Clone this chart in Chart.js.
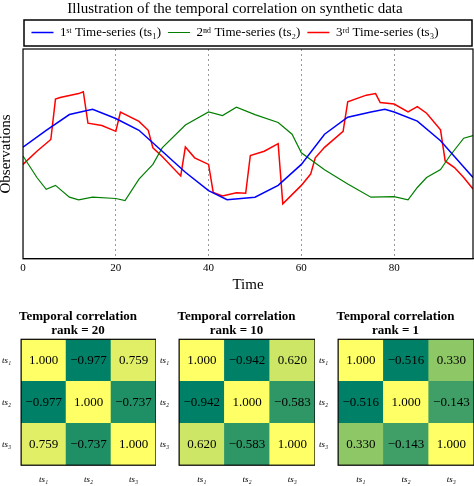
<!DOCTYPE html>
<html>
<head>
<meta charset="utf-8">
<script src="https://cdn.jsdelivr.net/npm/chart.js@4/dist/chart.umd.min.js"></script>
<style>
  body { margin: 0; background: #fff; width: 474px; height: 486px; position: relative; overflow: hidden; }
  .box { position: absolute; }
</style>
</head>
<body>
<div class="box" style="left:0;top:0;width:474px;height:294px"><canvas id="lineChart"></canvas></div>
<div class="box" style="left:0;top:310px;width:156px;height:176px"><canvas id="hm1"></canvas></div>
<div class="box" style="left:158px;top:310px;width:157px;height:176px"><canvas id="hm2"></canvas></div>
<div class="box" style="left:317px;top:310px;width:157px;height:176px"><canvas id="hm3"></canvas></div>
<script>
const ts1X = [0, 5, 10, 15, 20, 25, 30, 35, 40, 44, 50, 55, 60, 65, 70, 75, 78, 80, 85, 90, 95, 97];
const ts1Y = [0.26, 0.9, 1.5, 1.7, 1.35, 0.9, 0.1, -0.7, -1.4, -1.75, -1.65, -1.2, -0.4, 0.75, 1.4, 1.6, 1.7, 1.6, 1.25, 0.5, -0.5, -0.9];
const ts2X = [0, 3, 5, 7, 10, 12, 15, 20, 22, 25, 28, 30, 35, 40, 43, 46, 50, 55, 58, 60, 65, 70, 75, 80, 83, 85, 87, 90, 92, 95, 97];
const ts2Y = [-0.08, -0.9, -1.35, -1.2, -1.65, -1.75, -1.65, -1.7, -1.78, -0.96, -0.4, 0.23, 1.1, 1.6, 1.46, 1.78, 1.5, 1.2, 0.75, 0.04, -0.6, -1.15, -1.65, -1.63, -1.75, -1.28, -0.9, -0.6, -0.08, 0.6, 0.7];
const ts3X = [0, 3, 6, 7, 8, 12, 13, 14, 17, 20, 21, 25, 27, 28, 30, 34, 35, 37, 40, 41, 43, 46, 48, 49, 52, 55, 56, 60, 62, 63, 65, 69, 70, 74, 76, 77, 80, 83, 85, 87, 90, 91, 93, 95, 97];
const ts3Y = [-0.4, 0.1, 0.55, 2.09, 2.15, 2.3, 2.37, 1.17, 1.08, 0.86, 1.59, 1.24, 0.9, 0.23, -0.1, -0.84, 0.26, -0.15, -0.4, -1.47, -1.6, -1.48, -1.5, -0.06, 0.1, 0.39, -1.9, -1.2, -0.77, -0.15, 0.25, 0.86, 1.99, 2.24, 2.3, 1.96, 1.9, 1.6, 1.8, 1.55, 0.92, -0.27, -0.52, -0.9, -1.34];
const seriesLabels = ['1ˢᵗ Time-series (ts₁)', '2ⁿᵈ Time-series (ts₂)', '3ʳᵈ Time-series (ts₃)'];

// --- correlation matrices (row ts1..ts3)
const tsNames = ['ts₁', 'ts₂', 'ts₃'];
const ranks = [20, 10, 1];
const corr20 = [[1.000, -0.977, 0.759], [-0.977, 1.000, -0.737], [0.759, -0.737, 1.000]];
const corr10 = [[1.000, -0.942, 0.620], [-0.942, 1.000, -0.583], [0.620, -0.583, 1.000]];
const corr1 = [[1.000, -0.516, 0.330], [-0.516, 1.000, -0.143], [0.330, -0.143, 1.000]];

const serif = 'Liberation Serif';

function pts(xs, ys) { return xs.map((x, i) => ({ x: x, y: ys[i] })); }

const frame = {
    id: 'frame',
    afterDraw(chart) {
        const a = chart.chartArea, c = chart.ctx;
        c.save(); c.strokeStyle = '#000'; c.lineWidth = 1.2;
        c.strokeRect(a.left, a.top, a.right - a.left, a.bottom - a.top);
        if (chart.legend && chart.legend.options.display) {
            const l = chart.legend;
            c.lineWidth = 1.5;
            c.strokeRect(24, l.top + 1, 448, l.height - 4);
        }
        c.restore();
    }
};

new Chart(document.getElementById('lineChart'), {
    type: 'line',
    data: {
        datasets: [
            { label: seriesLabels[0], data: pts(ts1X, ts1Y), borderColor: '#0000ff', borderWidth: 1.5, pointRadius: 0 },
            { label: seriesLabels[1], data: pts(ts2X, ts2Y), borderColor: '#007f00', borderWidth: 1.2, pointRadius: 0 },
            { label: seriesLabels[2], data: pts(ts3X, ts3Y), borderColor: '#ff0000', borderWidth: 1.5, pointRadius: 0 }
        ]
    },
    options: {
        responsive: true, maintainAspectRatio: false, animation: false,
        layout: { padding: { left: -3, right: 1, top: 0, bottom: 0 } },
        plugins: {
            title: { display: true, text: 'Illustration of the temporal correlation on synthetic data', color: '#000', font: { family: serif, size: 15, weight: 'normal' }, padding: { top: 0, bottom: 1 } },
            legend: {
                labels: { color: '#000', boxWidth: 22, boxHeight: 0, padding: 7, font: { family: serif, size: 13 } }
            },
            tooltip: { enabled: false }
        },
        scales: {
            x: {
                type: 'linear', min: 0, max: 97,
                afterBuildTicks: (ax) => { ax.ticks = [0, 20, 40, 60, 80].map(v => ({ value: v })); },
                grid: { color: (c) => (c.tick.value === 0 ? 'transparent' : '#999'), drawTicks: false },
                border: { dash: [2, 3], color: '#000' },
                ticks: { color: '#000', padding: 3, font: { family: serif, size: 11 } },
                title: { display: true, text: 'Time', color: '#000', font: { family: serif, size: 15 }, padding: { top: -2, bottom: 0 } }
            },
            y: {
                min: -4, max: 4,
                ticks: { display: false, stepSize: 1 },
                grid: { display: false },
                title: { display: true, text: 'Observations', color: '#000', font: { family: serif, size: 15 }, padding: 0 }
            }
        }
    },
    plugins: [frame]
});

// summer colormap, normalized per matrix
function summer(v, lo, hi) {
    const t = (v - lo) / (hi - lo);
    return 'rgb(' + Math.round(255 * t) + ',' + Math.round(255 * (0.5 + t / 2)) + ',102)';
}

const cellText = {
    id: 'cellText',
    afterDatasetsDraw(chart) {
        const c = chart.ctx;
        c.save(); c.fillStyle = '#000'; c.textAlign = 'center'; c.textBaseline = 'middle';
        c.font = '13px ' + serif;
        chart.data.datasets.forEach((ds, di) => {
            chart.getDatasetMeta(di).data.forEach((bar, i) => {
                const v = ds.values[i];
                const s = (v < 0 ? '\u2212' : '') + Math.abs(v).toFixed(3);
                c.fillText(s, bar.x, (bar.y + bar.base) / 2);
            });
        });
        c.restore();
    }
};

function heatmap(id, m, rank) {
    const flat = m.flat();
    const lo = Math.min(...flat), hi = Math.max(...flat);
    // datasets stacked bottom-up: ts3, ts2, ts1
    const datasets = [2, 1, 0].map(r => ({
        label: tsNames[r],
        data: [1, 1, 1],
        values: m[r],
        backgroundColor: m[r].map(v => summer(v, lo, hi)),
        borderWidth: 0,
        barPercentage: 1, categoryPercentage: 1
    }));
    new Chart(document.getElementById(id), {
        type: 'bar',
        data: { labels: tsNames, datasets: datasets },
        options: {
            responsive: true, maintainAspectRatio: false, animation: false,
            layout: { padding: 0 },
            plugins: {
                legend: { display: false }, tooltip: { enabled: false },
                title: { display: true, text: ['Temporal correlation', 'rank = ' + rank], color: '#000', font: { family: serif, size: 13, weight: 'bold', lineHeight: 1.05 }, padding: { top: 0, bottom: 2 } }
            },
            scales: {
                x: {
                    stacked: true, grid: { display: false },
                    ticks: { color: '#000', padding: 1, font: { family: serif, size: 9, style: 'italic' } }
                },
                y: {
                    stacked: true, min: 0, max: 3,
                    afterBuildTicks: (ax) => { ax.ticks = [0.5, 1.5, 2.5].map(v => ({ value: v })); },
                    ticks: { color: '#000', padding: 2, font: { family: serif, size: 9, style: 'italic' }, callback: (v) => tsNames[2 - Math.floor(v)] },
                    grid: { display: false }
                }
            }
        },
        plugins: [cellText, frame]
    });
}

heatmap('hm1', corr20, ranks[0]);
heatmap('hm2', corr10, ranks[1]);
heatmap('hm3', corr1, ranks[2]);
</script>
</body>
</html>
